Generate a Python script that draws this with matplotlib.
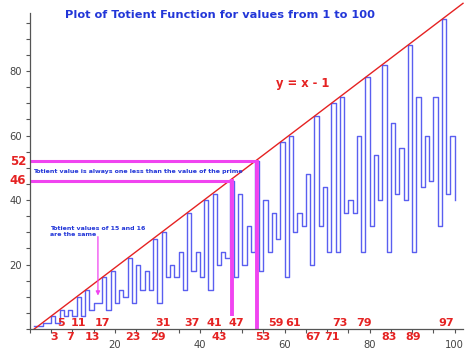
import matplotlib
matplotlib.use("Agg")
import matplotlib.pyplot as plt
from matplotlib.ticker import MultipleLocator

# totient values phi(n) for n = 1..100
n_values = list(range(1, 101))
totients = [1, 1, 2, 2, 4, 2, 6, 4, 6, 4,
            10, 4, 12, 6, 8, 8, 16, 6, 18, 8,
            12, 10, 22, 8, 20, 12, 18, 12, 28, 8,
            30, 16, 20, 16, 24, 12, 36, 18, 24, 16,
            40, 12, 42, 20, 24, 22, 46, 16, 42, 20,
            32, 24, 52, 18, 40, 24, 36, 28, 58, 16,
            60, 30, 36, 32, 48, 20, 66, 32, 44, 24,
            70, 24, 72, 36, 40, 36, 60, 24, 78, 32,
            54, 40, 82, 24, 64, 42, 56, 40, 88, 24,
            72, 44, 60, 46, 72, 32, 96, 42, 60, 40]

# reference line y = x - 1
line_x = [1, 102]
line_y = [0, 101]

# prime labels under the curve (two rows)
primes_upper = [5, 11, 17, 31, 37, 41, 47, 59, 61, 73, 79, 97]
primes_lower = [3, 7, 13, 23, 29, 43, 53, 67, 71, 83, 89]

# highlighted primes and their totients
highlight_primes = [47, 53]
highlight_totients = [46, 52]

BLUE = "#5a5ff0"
RED = "#e52222"
MAGENTA = "#f044f0"
TEXT_BLUE = "#2236d8"

fig = plt.figure(figsize=(4.74, 3.57), dpi=100)
ax = fig.add_axes([0.0633, 0.0784, 0.9135, 0.8852])

ax.plot(n_values, totients, drawstyle="steps-post", color=BLUE, lw=1.0)
ax.plot(line_x, line_y, color=RED, lw=1.0, clip_on=False)

# magenta markers for 47 and 53
bottoms = {47: 4, 53: -0.3}
for p, t in zip(highlight_primes, highlight_totients):
    ax.plot([0, p + 0.5], [t, t], color=MAGENTA, lw=2.2, solid_capstyle="butt", clip_on=False)
    ax.plot([p + 0.5, p + 0.5], [t + 0.5, bottoms[p]], color=MAGENTA, lw=2.8,
            solid_capstyle="butt", clip_on=False)
    ax.text(-0.9, t, str(t), ha="right", va="center", color=RED,
            fontsize=8.5, fontweight="bold", clip_on=False)

# small horizontal nudges so the labels sit as in the original
nudge = {5: 2.3, 11: 0.4, 17: 0.1, 31: 0.4, 37: 1.2, 41: 2.5, 47: 1.5,
         59: -1.0, 61: 1.0, 73: -0.1, 79: -0.4, 97: 1.0,
         3: 2.6, 7: 2.5, 13: 1.7, 23: 1.2, 29: 1.2, 43: 1.5, 53: 1.9,
         67: -0.3, 71: 0.1, 83: 1.5, 89: 1.2}
for p in primes_upper:
    ax.text(p + nudge[p], 1.8, str(p), ha="center", va="center", color=RED,
            fontsize=8, fontweight="bold", clip_on=False)
for p in primes_lower:
    ax.text(p + nudge[p], -2.4, str(p), ha="center", va="center", color=RED,
            fontsize=8, fontweight="bold", clip_on=False)

ax.text(0.8, 49.0, "Totient value is always one less than the value of the prime",
        color=TEXT_BLUE, fontsize=4.5, fontweight="bold", va="center")
ax.text(4.6, 30.2, "Totient values of 15 and 16\nare the same",
        color=TEXT_BLUE, fontsize=4.5, fontweight="bold", va="center", linespacing=1.1)
ax.annotate("", xy=(16, 9.5), xytext=(16, 29.5),
            arrowprops=dict(arrowstyle="-|>", color=MAGENTA, lw=0.9,
                            mutation_scale=6))

ax.text(58, 76, "y = x - 1", color=RED, fontsize=8.3, fontweight="bold", va="center")

fig.text(0.465, 0.958, "Plot of Totient Function for values from 1 to 100",
         ha="center", va="center", color=TEXT_BLUE, fontsize=8.2, fontweight="bold")

ax.set_xlim(0, 102)
ax.set_ylim(0, 98)
ax.spines["top"].set_visible(False)
ax.spines["right"].set_visible(False)
for s in ("left", "bottom"):
    ax.spines[s].set_color("#555555")
    ax.spines[s].set_linewidth(0.9)

ax.xaxis.set_major_locator(MultipleLocator(20))
ax.xaxis.set_minor_locator(MultipleLocator(5))
ax.yaxis.set_major_locator(MultipleLocator(20))
ax.yaxis.set_minor_locator(MultipleLocator(5))
ax.set_xticks([20, 40, 60, 80, 100])
ax.set_yticks([20, 40, 60, 80])
ax.tick_params(which="both", length=3, width=0.8, color="#555555",
               labelsize=7.2, labelcolor="#444444")
ax.tick_params(axis="x", pad=5)
ax.tick_params(axis="y", pad=3)

fig.savefig("out.png", dpi=100)
